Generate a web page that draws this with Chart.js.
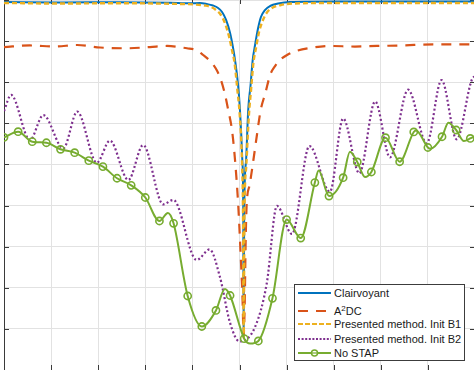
<!DOCTYPE html>
<html>
<head>
<meta charset="utf-8">
<script src="https://cdn.jsdelivr.net/npm/chart.js@4/dist/chart.umd.min.js"></script>
<style>
  html, body { margin: 0; padding: 0; background: #fff; overflow: hidden; }
  #wrap { position: relative; width: 476px; height: 370px; }
  #legend {
    position: absolute; left: 294px; top: 284px; width: 169px; height: 75px;
    border: 1px solid #3c3c3c; background: #fff;
    font-family: "Liberation Sans", Arial, sans-serif; font-size: 11px; color: #1a1a1a;
  }
  #legend .row { position: absolute; left: 3px; height: 14px; display: flex; align-items: center; white-space: nowrap; }
  #legend svg { display: block; margin-right: 3px; }
  #legend sup { font-size: 8px; line-height: 0; vertical-align: 4px; }
</style>
</head>
<body>
<div id="wrap">
  <canvas id="chart"></canvas>
  <div id="legend"></div>
</div>
<script>
// ====== Axis ticks (labels are cropped out of the picture) ======
const xTicks = [-1, -0.8, -0.6, -0.4, -0.2, 0, 0.2, 0.4, 0.6, 0.8, 1];
const yTicks = [-45, -40, -35, -30, -25, -20, -15, -10, -5, 0];

// ====== Clairvoyant ======
const clairX = [-1, -0.762, -0.507, -0.295, -0.210, -0.168, -0.138, -0.113, -0.091, -0.074, -0.057, -0.040, -0.028, -0.019, -0.006, 0.002, 0.012, 0.016, 0.0174, 0.020, 0.028, 0.037, 0.047, 0.056, 0.066, 0.079, 0.091, 0.108, 0.130, 0.164, 0.214, 0.427, 0.682, 1];
const clairY = [-0.24, -0.30, -0.27, -0.34, -0.41, -0.36, -0.49, -0.67, -0.97, -1.46, -2.43, -4.01, -5.72, -7.30, -10.34, -13.38, -19.46, -25.54, -40.86, -25.54, -19.46, -13.38, -10.34, -7.30, -5.47, -3.41, -2.07, -1.22, -0.73, -0.43, -0.24, -0.18, -0.18, -0.18];

// ====== A2DC ======
const a2dcX = [-1, -0.890, -0.783, -0.690, -0.592, -0.478, -0.380, -0.308, -0.223, -0.185, -0.154, -0.125, -0.097, -0.079, -0.062, -0.048, -0.032, -0.019, -0.005, 0.004, 0.013, 0.0174, 0.0225, 0.0255, 0.030, 0.043, 0.059, 0.074, 0.090, 0.110, 0.130, 0.151, 0.172, 0.202, 0.231, 0.299, 0.384, 0.490, 0.584, 0.682, 0.839, 1];
const a2dcY = [-5.72, -5.53, -5.66, -5.47, -5.78, -5.87, -5.72, -5.59, -5.87, -6.08, -6.69, -7.42, -8.51, -9.73, -11.43, -13.38, -15.81, -19.46, -25.14, -30.41, -36.49, -40.86, -36.49, -30.41, -25.14, -22.50, -19.46, -16.42, -13.38, -11.31, -9.12, -8.03, -7.30, -6.69, -6.29, -5.84, -5.59, -5.66, -5.59, -5.53, -5.39, -5.39];

// ====== Presented method, Init B1 ======
const b1X = [-1, -0.762, -0.507, -0.295, -0.189, -0.147, -0.121, -0.100, -0.079, -0.062, -0.045, -0.032, -0.021, -0.009, 0.001, 0.011, 0.015, 0.0178, 0.021, 0.029, 0.040, 0.049, 0.059, 0.070, 0.083, 0.098, 0.115, 0.138, 0.176, 0.223, 0.427, 1];
const b1Y = [-0.36, -0.43, -0.39, -0.46, -0.55, -0.67, -0.85, -1.22, -1.82, -2.80, -4.38, -6.08, -7.66, -10.95, -13.99, -20.07, -26.15, -41.11, -26.15, -20.07, -13.99, -10.95, -7.66, -5.84, -3.89, -2.55, -1.58, -0.97, -0.61, -0.43, -0.36, -0.36];

// ====== Presented method, Init B2 ======
const b2X = [-1, -0.970, -0.890, -0.833, -0.748, -0.689, -0.606, -0.550, -0.472, -0.409, -0.324, -0.281, -0.182, -0.127, -0.083, -0.040, 0.000, 0.066, 0.116, 0.159, 0.223, 0.297, 0.384, 0.440, 0.509, 0.576, 0.639, 0.716, 0.795, 0.858, 0.922, 0.996, 1.030];
const b2Y = [-13.50, -11.55, -17.03, -13.99, -18.04, -13.58, -19.79, -17.11, -21.89, -17.64, -24.85, -24.32, -31.62, -30.34, -33.69, -39.28, -41.53, -39.77, -34.42, -25.05, -28.46, -17.76, -23.31, -14.41, -21.08, -12.34, -19.13, -10.91, -17.43, -9.73, -16.94, -9.36, -11.55];

// ====== No STAP: marker samples and in-between extrema ======
const noStapMarkX = [-1, -0.94, -0.88, -0.82, -0.76, -0.70, -0.64, -0.58, -0.52, -0.46, -0.40, -0.34, -0.28, -0.22, -0.16, -0.10, -0.04, 0.02, 0.08, 0.14, 0.20, 0.26, 0.32, 0.38, 0.44, 0.50, 0.56, 0.62, 0.68, 0.74, 0.80, 0.86, 0.92, 0.98, 1.04];
const noStapMarkY = [-16.70, -16.02, -17.23, -17.36, -18.16, -18.57, -19.54, -20.27, -21.68, -22.54, -24.02, -26.88, -27.16, -36.00, -39.71, -37.76, -35.94, -41.19, -41.47, -36.28, -26.70, -28.95, -22.20, -23.84, -21.61, -19.70, -20.92, -16.75, -19.67, -16.05, -17.94, -16.63, -15.81, -16.84, -15.93];
const noStapExtraX = [-0.304, -0.062, 0.045, 0.336, 0.469, 0.533, 0.750, 0.810, 0.887, 0.953];
const noStapExtraY = [-25.91, -35.15, -41.78, -20.74, -18.45, -21.53, -15.87, -18.10, -14.92, -17.15];

const seriesNames = ["Clairvoyant", "A<sup>2</sup>DC", "Presented method. Init B1", "Presented method. Init B2", "No STAP"];
const colors = ["#0072BD", "#D95319", "#EDB120", "#7E2F8E", "#77AC30"];

const toPoints = (xs, ys) => xs.map((x, i) => ({ x: x, y: ys[i] }));

const noStapLine = toPoints(noStapMarkX, noStapMarkY)
  .concat(toPoints(noStapExtraX, noStapExtraY))
  .sort((a, b) => a.x - b.x);

// ====== Inward MATLAB-style tick marks and left axis line ======
const boxTicks = {
  id: "boxTicks",
  beforeDatasetsDraw(chart) {
    const { ctx, chartArea: a, scales } = chart;
    ctx.save();
    ctx.strokeStyle = "#3a3a3a";
    ctx.lineWidth = 1;
    ctx.beginPath();
    ctx.moveTo(a.left + 0.5, a.top);
    ctx.lineTo(a.left + 0.5, a.bottom);
    yTicks.forEach(v => {
      const y = Math.round(scales.y.getPixelForValue(v)) + 0.5;
      ctx.moveTo(a.left, y); ctx.lineTo(a.left + 5, y);
      ctx.moveTo(a.right - 5, y); ctx.lineTo(a.right, y);
    });
    xTicks.forEach(v => {
      const x = Math.round(scales.x.getPixelForValue(v)) + 0.5;
      ctx.moveTo(x, a.bottom); ctx.lineTo(x, a.bottom - 5);
      ctx.moveTo(x, a.top); ctx.lineTo(x, a.top + 4);
    });
    ctx.stroke();
    ctx.restore();
  }
};

const canvas = document.getElementById("chart");
new Chart(canvas.getContext("2d"), {
  type: "line",
  data: {
    datasets: [
      {
        label: "No STAP markers", data: toPoints(noStapMarkX, noStapMarkY), showLine: false,
        borderColor: colors[4], pointBorderColor: colors[4], pointBackgroundColor: "rgba(255,255,255,0)",
        pointRadius: 3.6, pointBorderWidth: 1.6, order: 0
      },
      {
        label: "No STAP", data: noStapLine, borderColor: colors[4], borderWidth: 2,
        pointRadius: 0, cubicInterpolationMode: "monotone", order: 1
      },
      {
        label: "Presented method. Init B2", data: toPoints(b2X, b2Y), borderColor: colors[3], borderWidth: 2.2,
        borderDash: [2, 2.4], pointRadius: 0, cubicInterpolationMode: "monotone", order: 2
      },
      {
        label: "Presented method. Init B1", data: toPoints(b1X, b1Y), borderColor: colors[2], borderWidth: 2.4,
        borderDash: [5, 3], pointRadius: 0, cubicInterpolationMode: "monotone", order: 3
      },
      {
        label: "A2DC", data: toPoints(a2dcX, a2dcY), borderColor: colors[1], borderWidth: 2.2,
        borderDash: [10, 8], pointRadius: 0, cubicInterpolationMode: "monotone", order: 4
      },
      {
        label: "Clairvoyant", data: toPoints(clairX, clairY), borderColor: colors[0], borderWidth: 2,
        pointRadius: 0, cubicInterpolationMode: "monotone", order: 5
      }
    ]
  },
  options: {
    responsive: true,
    maintainAspectRatio: false,
    animation: false,
    events: [],
    layout: { autoPadding: false, padding: { left: 4, right: 1, top: 0, bottom: 0 } },
    plugins: { legend: { display: false }, tooltip: { enabled: false } },
    scales: {
      x: {
        type: "linear", min: -1, max: 1,
        afterBuildTicks: axis => { axis.ticks = xTicks.map(v => ({ value: v })); },
        ticks: { display: false },
        grid: { color: "#e2e2e2", lineWidth: 1, drawTicks: false },
        border: { display: false }
      },
      y: {
        type: "linear", min: -45, max: 0,
        afterBuildTicks: axis => { axis.ticks = yTicks.map(v => ({ value: v })); },
        ticks: { display: false },
        grid: { color: "#e2e2e2", lineWidth: 1, drawTicks: false },
        border: { display: false }
      }
    }
  },
  plugins: [boxTicks]
});

// ====== Legend (inside the axes, lower right) ======
const legend = document.getElementById("legend");
const rowTops = [1.3, 18.7, 32.3, 46.7, 60.7];
const samples = [
  `<line x1="0" y1="4" x2="33" y2="4" stroke="${colors[0]}" stroke-width="2"/>`,
  `<line x1="0" y1="4" x2="33" y2="4" stroke="${colors[1]}" stroke-width="2" stroke-dasharray="10 8"/>`,
  `<line x1="0" y1="4" x2="33" y2="4" stroke="${colors[2]}" stroke-width="2" stroke-dasharray="5 2"/>`,
  `<line x1="0" y1="4" x2="33" y2="4" stroke="${colors[3]}" stroke-width="2" stroke-dasharray="2 1.6"/>`,
  `<line x1="0" y1="4" x2="33" y2="4" stroke="${colors[4]}" stroke-width="2"/><circle cx="16.5" cy="4" r="3" fill="#fff" fill-opacity="0.4" stroke="${colors[4]}" stroke-width="1.5"/>`
];
seriesNames.forEach((name, i) => {
  const row = document.createElement("div");
  row.className = "row";
  row.style.top = rowTops[i] + "px";
  row.innerHTML = `<svg width="33" height="8">${samples[i]}</svg><span>${name}</span>`;
  legend.appendChild(row);
});
</script>
</body>
</html>
